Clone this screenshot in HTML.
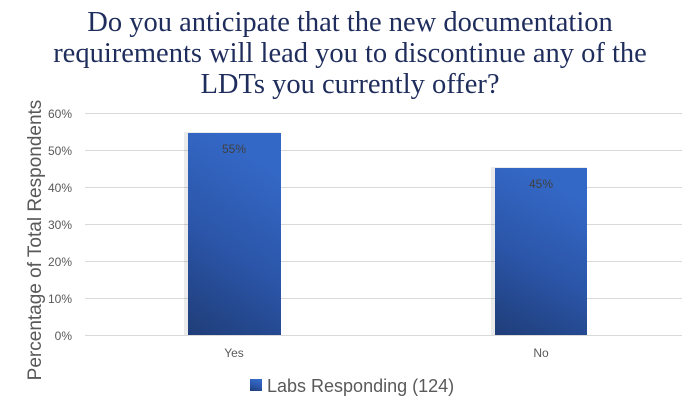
<!DOCTYPE html>
<html><head><style>
body{margin:0;width:700px;height:414px;background:#fff;overflow:hidden}
</style></head><body>
<svg width="700" height="414" xmlns="http://www.w3.org/2000/svg">
<defs>
<linearGradient id="g" x1="0" y1="1" x2="0.3" y2="0">
<stop offset="0" stop-color="#1f3d78"/>
<stop offset="0.5" stop-color="#2b55a8"/>
<stop offset="1" stop-color="#3468c6"/>
</linearGradient>
</defs>
<g font-family="Liberation Serif, serif" font-size="28.5" fill="#1f2d5c" text-anchor="middle">
<text x="350" y="31">Do you anticipate that the new documentation</text>
<text x="350" y="62">requirements will lead you to discontinue any of the</text>
<text x="350" y="93">LDTs you currently offer?</text>
</g>
<g stroke="#d9d9d9" stroke-width="1">
<line x1="85" x2="682" y1="113.5" y2="113.5"/>
<line x1="85" x2="682" y1="150.5" y2="150.5"/>
<line x1="85" x2="682" y1="187.5" y2="187.5"/>
<line x1="85" x2="682" y1="224.5" y2="224.5"/>
<line x1="85" x2="682" y1="261.5" y2="261.5"/>
<line x1="85" x2="682" y1="298.5" y2="298.5"/>
<line x1="85" x2="682" y1="335.5" y2="335.5"/>
</g>
<g font-family="Liberation Sans, sans-serif" font-size="12" fill="#595959" text-anchor="end">
<text x="72" y="118">60%</text>
<text x="72" y="155">50%</text>
<text x="72" y="192">40%</text>
<text x="72" y="229">30%</text>
<text x="72" y="266">20%</text>
<text x="72" y="303">10%</text>
<text x="72" y="340">0%</text>
</g>
<rect x="184" y="132" width="96" height="203" fill="#000" opacity="0.08"/>
<rect x="188" y="133" width="93" height="202" fill="url(#g)"/>
<rect x="491" y="167" width="96" height="168" fill="#000" opacity="0.08"/>
<rect x="495" y="168" width="92" height="167" fill="url(#g)"/>
<g font-family="Liberation Sans, sans-serif" font-size="12" fill="#404040" text-anchor="middle">
<text x="234" y="153">55%</text>
<text x="541" y="188">45%</text>
</g>
<g font-family="Liberation Sans, sans-serif" font-size="12" fill="#595959" text-anchor="middle">
<text x="234" y="357">Yes</text>
<text x="541" y="357">No</text>
</g>
<text transform="translate(41,240) rotate(-90)" font-family="Liberation Sans, sans-serif" font-size="19" fill="#595959" text-anchor="middle">Percentage of Total Respondents</text>
<rect x="250" y="379" width="12" height="12" fill="url(#g)"/>
<text x="267" y="392" font-family="Liberation Sans, sans-serif" font-size="18" fill="#595959">Labs Responding (124)</text>
</svg>
</body></html>
